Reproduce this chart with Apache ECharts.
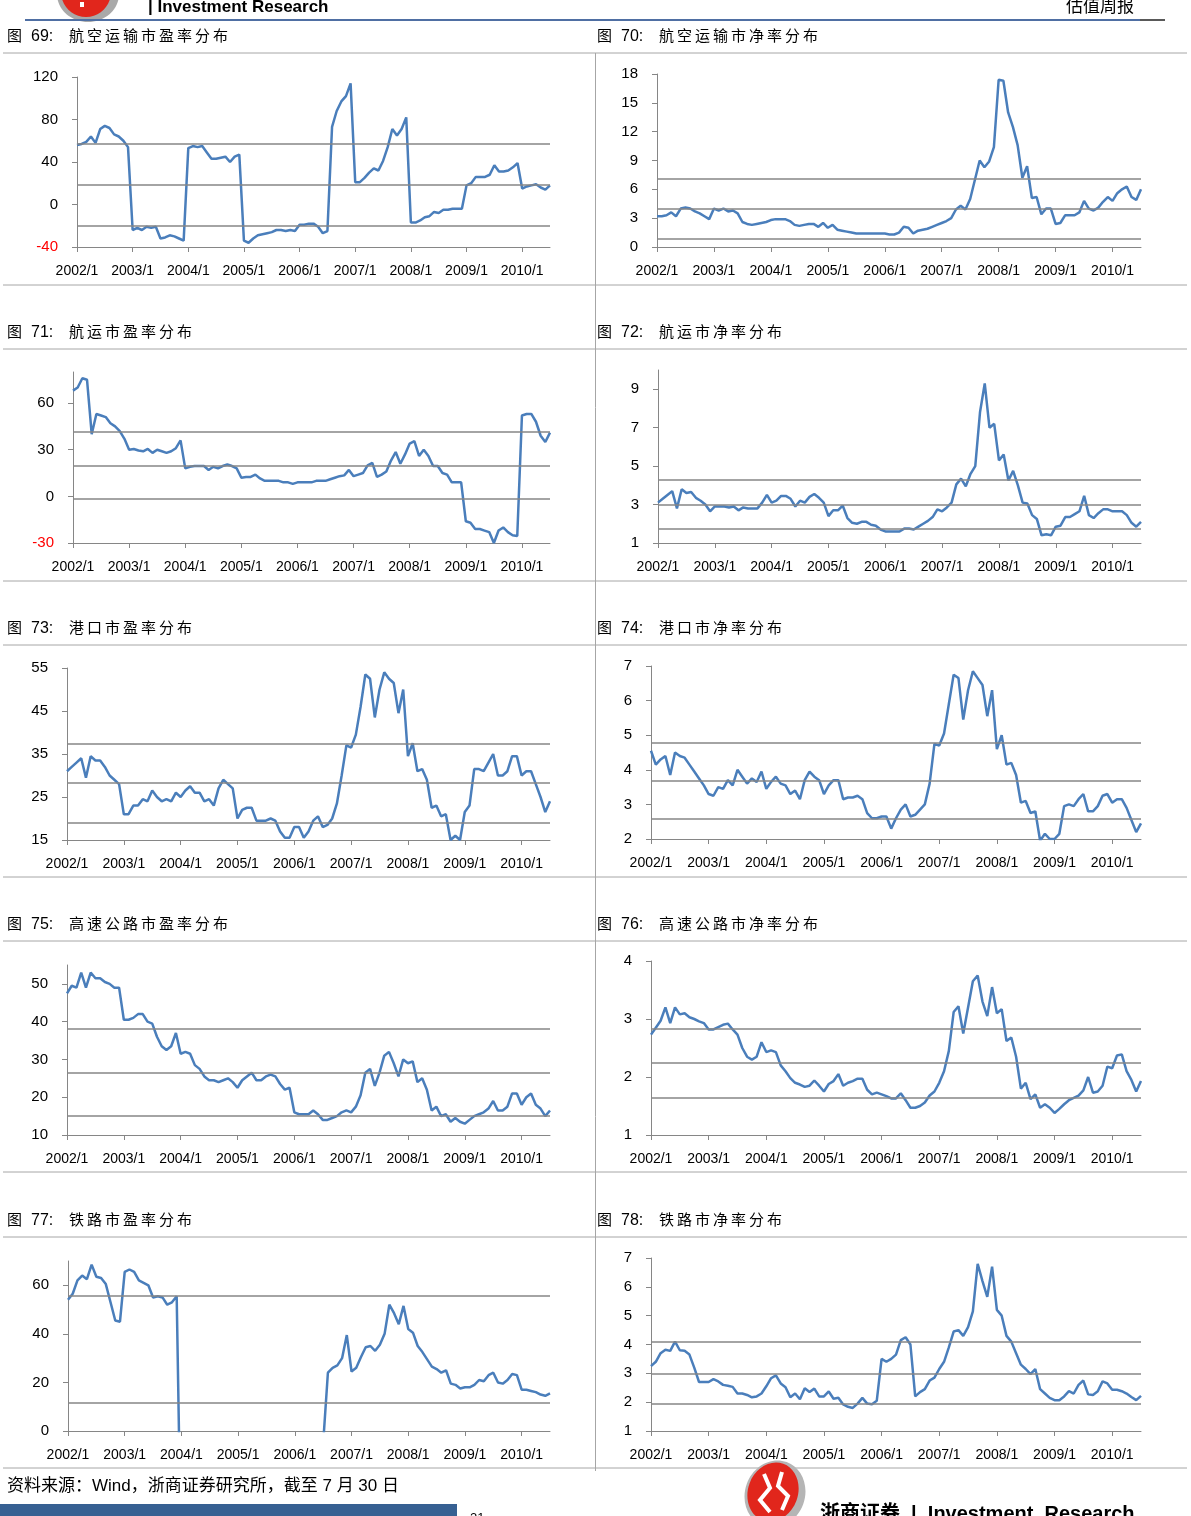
<!DOCTYPE html>
<html>
<head>
<meta charset="utf-8">
<title>估值周报</title>
<script src="https://cdn.jsdelivr.net/npm/echarts/dist/echarts.min.js"></script>
<style>
html, body { margin: 0; padding: 0; background: #fff; }
#page { width: 1191px; height: 1516px; }
</style>
</head>
<body>
<div id="page"></div>
<script>
// 月份 2002/1 ~ 2010/7
const months = []
for (let y = 2002; y <= 2010; y++) {
  for (let m = 1; m <= 12; m++) {
    if (y === 2010 && m > 7) break
    months.push(y + '/' + m)
  }
}

// 图69 航空运输 市盈率
const airPE = [
  56, 57, 59, 64, 58, 71, 74, 72, 66, 64, 60, 54,
  -24, -22, -24, -21, -22, -21, -32, -31, -29, -30, -32, -34,
  53, 55, 54, 55, 49, 43, 43, 44, 45, 40, 45, 47,
  -34, -36, -32, -29, -28, -27, -26, -24, -24, -25, -24, -25,
  -19, -19, -18, -18, -21, -27, -25, 73, 88, 97, 102, 114,
  21, 21, 25, 30, 34, 32, 41, 54, 71, 65, 71, 82,
  -17, -17, -15, -12, -11, -7, -8, -5, -5, -4, -4, -4,
  18, 20, 26, 26, 26, 28, 37, 31, 31, 32, 35, 39,
  15, 17, 18, 19, 16, 14, 18
]
const airPERef = [57.5, 18.8, -20]

// 图70 航空运输 市净率
const airPB = [
  3.2, 3.2, 3.3, 3.6, 3.2, 4.0, 4.1, 4.0, 3.7, 3.5, 3.2, 2.9,
  4.0, 3.8, 4.0, 3.7, 3.8, 3.5, 2.6, 2.4, 2.3, 2.4, 2.5, 2.6,
  2.8, 2.9, 2.9, 2.9, 2.7, 2.3, 2.2, 2.3, 2.4, 2.4, 2.1, 2.5,
  2.0, 2.3, 1.8, 1.7, 1.6, 1.5, 1.4, 1.4, 1.4, 1.4, 1.4, 1.4,
  1.4, 1.3, 1.3, 1.5, 2.1, 2.0, 1.4, 1.7, 1.8, 1.9, 2.1, 2.3,
  2.5, 2.7, 3.0, 3.9, 4.3, 3.9, 5.0, 7.0, 9.0, 8.3, 8.9, 10.4,
  17.4, 17.3, 14.0, 12.5, 10.6, 7.2, 8.4, 5.1, 5.2, 3.4, 4.0, 4.0,
  2.4, 2.5, 3.3, 3.3, 3.3, 3.6, 4.8, 4.0, 3.8, 4.1, 4.7, 5.2,
  4.8, 5.6, 6.0, 6.3, 5.2, 4.9, 6.0
]
const airPBRef = [7.1, 4.0, 0.9]

// 图71 航运 市盈率
const shipPE = [
  68, 70, 76, 75, 40, 53, 52, 51, 47, 45, 42, 37,
  30, 30.5, 29.5, 29, 30.5, 28, 30, 29, 28, 29, 31, 36,
  18, 19, 19.5, 19.5, 19.5, 17, 19, 18, 19.5, 20.5, 19.5, 18,
  12, 12.5, 12.5, 14, 11.5, 10, 10, 10, 10, 9, 9, 8,
  9, 9, 9, 9, 10, 10, 10, 11, 12, 13, 13.5, 17,
  13, 14, 15, 20, 21.5, 12.5, 14, 16, 23, 28.5, 21, 27,
  34, 35.5, 26, 30, 26, 19.5, 19.5, 15, 14, 9, 9, 9,
  -16, -17, -21, -21, -22, -23, -30, -22, -20, -23, -25, -25.5,
  52, 53, 53, 48, 39, 35, 41
]
const shipPERef = [41.5, 20, -1.5]

// 图72 航运 市净率
const shipPB = [
  3.1, 3.3, 3.5, 3.7, 2.8, 3.8, 3.6, 3.65, 3.35, 3.2, 3.0, 2.65,
  2.9, 2.9, 2.9, 2.85, 2.9, 2.7, 2.85, 2.8, 2.8, 2.8, 3.1, 3.5,
  3.1, 3.2, 3.45, 3.45, 3.3, 2.9, 3.2, 3.1, 3.4, 3.55, 3.35, 3.1,
  2.4, 2.7, 2.7, 2.95, 2.3, 2.05, 2.0, 2.1, 2.1, 1.95, 1.9, 1.7,
  1.6, 1.6, 1.6, 1.6, 1.75, 1.75, 1.7, 1.85, 2.0, 2.15, 2.35, 2.75,
  2.65, 2.85, 3.1, 4.05, 4.35, 3.95, 4.6, 5.0, 7.8, 9.3, 7.0, 7.2,
  5.3, 5.6, 4.25, 4.75, 4.0, 3.1, 3.05, 2.45, 2.25, 1.4, 1.45, 1.4,
  1.85, 1.9, 2.35, 2.35, 2.5, 2.65, 3.45, 2.45, 2.3, 2.55, 2.75, 2.75,
  2.65, 2.65, 2.65, 2.45, 2.05, 1.85, 2.1
]
const shipPBRef = [4.3, 3.0, 1.72]

// 图73 港口 市盈率
const portPE = [
  31, 32, 33, 34, 29.5, 34.5, 33.5, 33.5, 32, 30, 29, 28,
  21, 21, 23, 23, 24.5, 24, 26.5, 25, 24, 24.5, 24, 26,
  25, 26.5, 27.5, 26, 26, 24, 24.5, 23, 27, 29, 28, 27,
  20, 22, 22.5, 22.5, 19.5, 19.5, 19.5, 20, 19.5, 17, 15.5, 15.5,
  18, 18, 15.5, 17, 19.5, 20.5, 18, 18.5, 20, 23.5, 30, 37,
  36.5, 39.5, 46, 53.5, 52.5, 43.5, 50, 54, 52.5, 51.5, 44.5, 50,
  34.5, 37.5, 31, 31.5, 29, 22.5, 23, 20.5, 21, 15, 16, 15,
  21.5, 23, 31.5, 31.5, 31, 33, 35, 30, 30, 31, 34.5, 34.5,
  30, 31, 31, 28, 25, 21.5, 24
]
const portPERef = [37.4, 28.2, 19.0]

// 图74 港口 市净率
const portPB = [
  4.55, 4.15, 4.3, 4.4, 3.85, 4.5, 4.4, 4.35, 4.15, 3.95, 3.75, 3.55,
  3.3, 3.25, 3.5, 3.45, 3.7, 3.55, 4.0, 3.8, 3.6, 3.75, 3.65, 3.95,
  3.45, 3.65, 3.8, 3.6, 3.55, 3.3, 3.4, 3.15, 3.7, 3.95, 3.8, 3.7,
  3.3, 3.55, 3.7, 3.7, 3.15, 3.2, 3.2, 3.25, 3.15, 2.75, 2.6, 2.6,
  2.65, 2.65, 2.3, 2.6, 2.85, 3.0, 2.65, 2.7, 2.85, 3.0, 3.6, 4.75,
  4.7, 5.05, 5.9, 6.75, 6.65, 5.45, 6.3, 6.85, 6.65, 6.45, 5.55, 6.3,
  4.6, 5.0, 4.15, 4.2, 3.85, 3.05, 3.1, 2.75, 2.8, 1.95, 2.15, 2.0,
  2.0, 2.15, 2.95, 3.0, 2.95, 3.15, 3.3, 2.8, 2.8, 2.95, 3.25, 3.3,
  3.05, 3.15, 3.15, 2.9, 2.55, 2.2, 2.45
]
const portPBRef = [4.77, 3.67, 2.58]

// 图75 高速公路 市盈率
const roadPE = [
  47.5, 49.5, 49, 53, 49, 53, 51.5, 51.5, 50.5, 50, 49, 49,
  40.5, 40.5, 41, 42, 42, 40, 39.5, 36, 33.5, 32.5, 33.5, 37,
  31.5, 32, 31.5, 28.5, 27.5, 25.5, 24.5, 24.5, 24, 24.5, 25, 24,
  22.5, 24.5, 25.5, 26.5, 24.5, 24.5, 25.5, 26, 25.5, 23.5, 22, 22.5,
  16, 15.5, 15.5, 15.5, 16.5, 15.5, 14, 14, 14.5, 15, 16, 16.5,
  16, 17.5, 20.5, 26.5, 27.5, 23, 26.5, 31, 32, 29, 25.5, 30,
  29, 29.5, 24, 25, 22, 16.5, 17.5, 15, 15.5, 13.5, 14.5, 13.5,
  13, 14, 15, 15.5, 16, 17, 19, 16.5, 16.5, 17.5, 21, 21,
  18, 20, 21, 18, 17, 15, 16.5
]
const roadPERef = [38, 26.6, 15.2]

// 图76 高速公路 市净率
const roadPB = [
  2.73, 2.85, 2.97, 3.2, 2.93, 3.2, 3.08, 3.1, 3.03, 3.0, 2.96, 2.93,
  2.82, 2.82, 2.86, 2.9, 2.92, 2.82, 2.73, 2.5, 2.35, 2.3, 2.35, 2.6,
  2.43, 2.46, 2.43, 2.2, 2.1, 1.98, 1.9, 1.87, 1.83, 1.85, 1.94, 1.85,
  1.75, 1.88, 1.93, 2.05, 1.85, 1.9, 1.93, 1.97, 1.97, 1.78, 1.7, 1.73,
  1.7, 1.67, 1.63, 1.63, 1.72, 1.6, 1.47, 1.47, 1.5, 1.56, 1.68, 1.75,
  1.9, 2.1, 2.45, 3.12, 3.22, 2.75, 3.2, 3.65, 3.75, 3.3, 3.05, 3.55,
  3.1, 3.17, 2.62, 2.68, 2.35, 1.8, 1.9, 1.62, 1.7, 1.47, 1.53, 1.47,
  1.38, 1.45, 1.53, 1.6, 1.64, 1.68, 1.77, 2.0, 1.73, 1.75, 1.85, 2.18,
  2.15, 2.37, 2.39, 2.1, 1.95, 1.75, 1.93
]
const roadPBRef = [2.84, 2.24, 1.65]

// 图77 铁路 市盈率（2004/1-2006/7 为负值，落在坐标轴以下）
const railPE = [
  54, 56.5, 62, 64, 62.5, 68.5, 63.5, 63, 60.5, 53, 45.5, 45,
  65.5, 66.5, 65.5, 62, 61, 60, 55, 55.5, 55, 52, 53, 55.5,
  -60, null, null, null, null, null, null, null, null, null, null, null,
  null, null, null, null, null, null, null, null, null, null, null, null,
  null, null, null, null, null, null, -5, 24, 26, 27, 30, 39.5,
  24.5, 26, 30.5, 34.5, 35, 33, 35.5, 40, 52, 48.5, 44, 51.5,
  42, 40.5, 35, 32.5, 29.5, 26.5, 25.5, 24, 25, 19.5, 19, 17.5,
  18, 18, 19, 21, 20.5, 23, 24, 20, 19.5, 21, 23.5, 23,
  17, 17, 16.5, 16, 15, 14.5, 15.5
]
const railPERef = [55.6, 11.7]

// 图78 铁路 市净率
const railPB = [
  3.25, 3.4, 3.7, 3.82, 3.78, 4.1, 3.8, 3.78, 3.65, 3.2, 2.7, 2.7,
  2.7, 2.8, 2.72, 2.6, 2.57, 2.53, 2.3, 2.3, 2.25, 2.17, 2.2, 2.3,
  2.55, 2.83, 2.93, 2.65, 2.52, 2.17, 2.3, 2.1, 2.48, 2.35, 2.47, 2.2,
  2.2, 2.37, 2.12, 2.15, 1.92, 1.84, 1.8, 1.95, 2.15, 1.95, 1.93, 2.05,
  3.5, 3.4, 3.5, 3.65, 4.15, 4.25, 4.0, 2.2, 2.35, 2.45, 2.75, 2.85,
  3.15, 3.4, 3.9, 4.45, 4.5, 4.3, 4.6, 5.15, 6.8, 6.2, 5.65, 6.7,
  5.2, 5.0, 4.3, 4.1, 3.7, 3.3, 3.15, 2.97, 3.15, 2.45, 2.3, 2.15,
  2.07, 2.07, 2.2, 2.38, 2.3, 2.6, 2.75, 2.27, 2.25, 2.38, 2.72, 2.65,
  2.43, 2.43, 2.38, 2.3, 2.18, 2.07, 2.22
]
const railPBRef = [4.1, 3.0, 1.96]

// y轴刻度
const airPETicks = [-40, 0, 40, 80, 120]
const airPBTicks = [0, 3, 6, 9, 12, 15, 18]
const shipPETicks = [-30, 0, 30, 60]
const shipPBTicks = [1, 3, 5, 7, 9]
const portPETicks = [15, 25, 35, 45, 55]
const portPBTicks = [2, 3, 4, 5, 6, 7]
const roadPETicks = [10, 20, 30, 40, 50]
const roadPBTicks = [1, 2, 3, 4]
const railPETicks = [0, 20, 40, 60]
const railPBTicks = [1, 2, 3, 4, 5, 6, 7]

const charts = [
  { no: '69:', name: '航空运输市盈率分布', data: airPE, ref: airPERef, ticks: airPETicks, min: -40, max: 120 },
  { no: '70:', name: '航空运输市净率分布', data: airPB, ref: airPBRef, ticks: airPBTicks, min: 0, max: 18 },
  { no: '71:', name: '航运市盈率分布', data: shipPE, ref: shipPERef, ticks: shipPETicks, min: -30, max: 80 },
  { no: '72:', name: '航运市净率分布', data: shipPB, ref: shipPBRef, ticks: shipPBTicks, min: 1, max: 10 },
  { no: '73:', name: '港口市盈率分布', data: portPE, ref: portPERef, ticks: portPETicks, min: 15, max: 55 },
  { no: '74:', name: '港口市净率分布', data: portPB, ref: portPBRef, ticks: portPBTicks, min: 2, max: 7 },
  { no: '75:', name: '高速公路市盈率分布', data: roadPE, ref: roadPERef, ticks: roadPETicks, min: 10, max: 55 },
  { no: '76:', name: '高速公路市净率分布', data: roadPB, ref: roadPBRef, ticks: roadPBTicks, min: 1, max: 4 },
  { no: '77:', name: '铁路市盈率分布', data: railPE, ref: railPERef, ticks: railPETicks, min: 0, max: 70 },
  { no: '78:', name: '铁路市净率分布', data: railPB, ref: railPBRef, ticks: railPBTicks, min: 1, max: 7 }
]

// 各图绘图区位置
const grids = [
  { left: 77, top: 77, width: 473, height: 170 },
  { left: 657, top: 74, width: 484, height: 173 },
  { left: 73, top: 372, width: 477, height: 171 },
  { left: 658, top: 370, width: 483, height: 173 },
  { left: 67, top: 668, width: 483, height: 172 },
  { left: 651, top: 666, width: 490, height: 173 },
  { left: 67, top: 965, width: 483, height: 170 },
  { left: 651, top: 961, width: 490, height: 174 },
  { left: 68, top: 1261, width: 482, height: 170 },
  { left: 651, top: 1258, width: 490, height: 173 }
]
const titleRows = [37, 333, 629, 925, 1221]
const frameRows = [53, 285, 349, 581, 645, 877, 941, 1172, 1237, 1468]

const lineBlue = '#4a7ebb'
const axisGray = '#868686'
const latin = '"Liberation Sans", Arial, sans-serif'
const cjk = '"Liberation Sans", "Noto Sans CJK SC", sans-serif'
const isYearStart = (i, v) => /\/1$/.test(v)

const chart = echarts.init(document.getElementById('page'), null, { renderer: 'canvas' })

const graphic = []
// 页眉
graphic.push(
  { type: 'ellipse', shape: { cx: 88, cy: -6, rx: 31, ry: 28 }, style: { fill: '#a9a9a9' } },
  { type: 'ellipse', shape: { cx: 86, cy: -8, rx: 25, ry: 25 }, style: { fill: '#e1261c' } },
  { type: 'rect', shape: { x: 80, y: 2, width: 4, height: 5 }, style: { fill: '#fff' } },
  { type: 'text', x: 148, y: 7, style: { text: '| Investment Research', font: 'bold 17px ' + latin, fill: '#000', verticalAlign: 'middle' } },
  { type: 'text', x: 1066, y: 7, style: { text: '估值周报', font: '17px ' + cjk, fill: '#000', verticalAlign: 'middle' } },
  { type: 'line', shape: { x1: 25, y1: 20, x2: 1140, y2: 20 }, style: { stroke: '#4f6fa3', lineWidth: 2 } },
  { type: 'line', shape: { x1: 1140, y1: 20, x2: 1165, y2: 20 }, style: { stroke: '#222', lineWidth: 1.5 } }
)
// 表格线
frameRows.forEach(y => {
  graphic.push({ type: 'line', shape: { x1: 3, y1: y, x2: 1187, y2: y }, style: { stroke: '#a6a6a6', lineWidth: 1 } })
})
graphic.push({ type: 'line', shape: { x1: 595.5, y1: 53, x2: 595.5, y2: 1471 }, style: { stroke: '#a6a6a6', lineWidth: 1 } })
// 图标题（中文字间距较宽，逐字排）
charts.forEach((c, i) => {
  const x0 = i % 2 === 0 ? 7 : 597
  const y = titleRows[Math.floor(i / 2)]
  graphic.push(
    { type: 'text', x: x0, y: y, style: { text: '图', font: '15px ' + cjk, fill: '#000', verticalAlign: 'middle' } },
    { type: 'text', x: x0 + 24, y: y, style: { text: c.no, font: '16px ' + latin, fill: '#000', verticalAlign: 'middle' } }
  )
  c.name.split('').forEach((ch, k) => {
    graphic.push({ type: 'text', x: x0 + 62 + k * 18, y: y, style: { text: ch, font: '15px ' + cjk, fill: '#000', verticalAlign: 'middle' } })
  })
})
// 页脚
graphic.push(
  { type: 'text', x: 7, y: 1486, style: { text: '资料来源：Wind，浙商证券研究所，截至 7 月 30 日', font: '17px ' + cjk, fill: '#000', verticalAlign: 'middle' } },
  { type: 'rect', shape: { x: 0, y: 1504, width: 457, height: 12 }, style: { fill: '#376092' } },
  { type: 'text', x: 470, y: 1512, style: { text: '21', font: '13px ' + latin, fill: '#000' } },
  { type: 'ellipse', shape: { cx: 775, cy: 1494, rx: 30, ry: 34 }, rotation: -0.35, originX: 775, originY: 1494, style: { fill: '#b5b5b5' } },
  { type: 'ellipse', shape: { cx: 773, cy: 1492, rx: 25, ry: 30 }, rotation: -0.35, originX: 773, originY: 1492, style: { fill: '#e1261c' } },
  { type: 'polyline', shape: { points: [[764, 1474], [770, 1488], [760, 1500], [770, 1512]] }, style: { stroke: '#fff', lineWidth: 4, fill: null } },
  { type: 'polyline', shape: { points: [[782, 1472], [778, 1486], [788, 1496], [782, 1510]] }, style: { stroke: '#fff', lineWidth: 4, fill: null } },
  { type: 'text', x: 820, y: 1504, style: { text: '浙商证券  |  Investment  Research', font: 'bold 20px ' + cjk, fill: '#000' } }
)

const option = {
  animation: false,
  backgroundColor: '#fff',
  graphic: graphic,
  grid: grids.map(g => Object.assign({ containLabel: false }, g)),
  xAxis: charts.map((c, i) => ({
    type: 'category',
    gridIndex: i,
    data: months,
    boundaryGap: false,
    axisLine: { onZero: false, lineStyle: { color: axisGray, width: 1 } },
    axisTick: { interval: isYearStart, length: 5, lineStyle: { color: axisGray } },
    axisLabel: { interval: isYearStart, margin: 17, fontSize: 14, fontFamily: latin, color: '#000' },
    splitLine: { show: false }
  })),
  yAxis: charts.map((c, i) => ({
    type: 'value',
    gridIndex: i,
    min: c.min,
    max: c.max,
    axisLine: { show: true, lineStyle: { color: axisGray, width: 1 } },
    axisTick: { show: true, length: 5, customValues: c.ticks, lineStyle: { color: axisGray } },
    axisLabel: {
      customValues: c.ticks,
      margin: 19,
      fontSize: 15,
      fontFamily: latin,
      color: v => (v < 0 ? '#ff0000' : '#000')
    },
    splitLine: { show: false }
  })),
  series: charts.map((c, i) => ({
    type: 'line',
    xAxisIndex: i,
    yAxisIndex: i,
    data: c.data,
    showSymbol: false,
    clip: true,
    lineStyle: { color: lineBlue, width: 2.5 },
    itemStyle: { color: lineBlue },
    markLine: {
      silent: true,
      symbol: 'none',
      label: { show: false },
      lineStyle: { color: axisGray, width: 1.5, type: 'solid' },
      data: c.ref.map(v => ({ yAxis: v }))
    }
  }))
}

chart.setOption(option)
</script>
</body>
</html>
